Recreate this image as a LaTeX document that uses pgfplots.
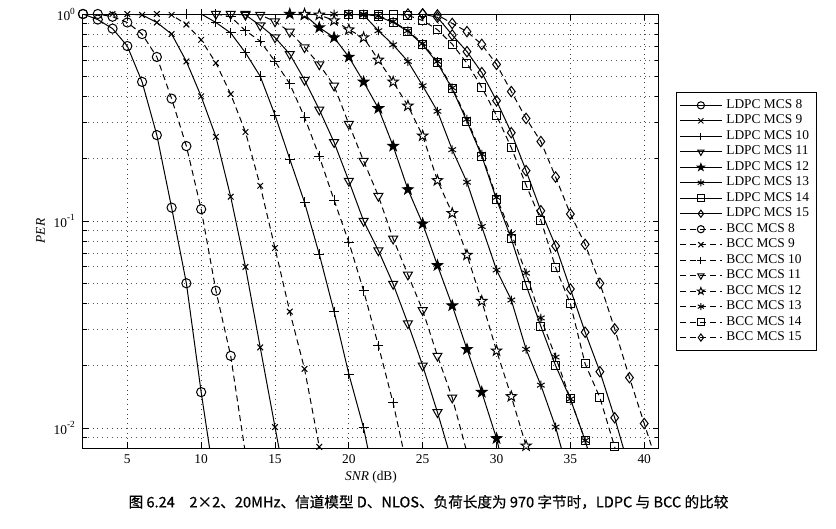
\documentclass[border=0pt]{standalone}
\usepackage{pgfplots}
\pgfplotsset{compat=1.18}
\usepackage{fontspec}
\setmainfont{Liberation Serif}
\newfontfamily\cjk[FakeBold=0.6]{Noto Sans CJK SC}
\usetikzlibrary{plotmarks}
\pgfdeclareplotmark{pstar}{%
  \pgfpathmoveto{\pgfpointpolar{90}{\pgfplotmarksize}}%
  \pgfpathlineto{\pgfpointpolar{126}{0.4\pgfplotmarksize}}%
  \pgfpathlineto{\pgfpointpolar{162}{\pgfplotmarksize}}%
  \pgfpathlineto{\pgfpointpolar{198}{0.4\pgfplotmarksize}}%
  \pgfpathlineto{\pgfpointpolar{234}{\pgfplotmarksize}}%
  \pgfpathlineto{\pgfpointpolar{270}{0.4\pgfplotmarksize}}%
  \pgfpathlineto{\pgfpointpolar{306}{\pgfplotmarksize}}%
  \pgfpathlineto{\pgfpointpolar{342}{0.4\pgfplotmarksize}}%
  \pgfpathlineto{\pgfpointpolar{18}{\pgfplotmarksize}}%
  \pgfpathlineto{\pgfpointpolar{54}{0.4\pgfplotmarksize}}%
  \pgfpathclose
  \pgfusepathqfillstroke}
\pgfplotsset{
  ldpc/.style={black, solid, line width=0.5pt},
  bcc/.style={black, dash pattern=on 3pt off 2pt, line width=0.5pt},
}
\begin{document}
\begin{tikzpicture}
\useasboundingbox (-41.5pt,-40.5pt) rectangle (376.5pt,224pt);
\begin{axis}[
  at={(0pt,0pt)}, anchor=south west,
  scale only axis, width=288pt, height=217pt,
  ymode=log, xmin=2, xmax=41, ymin=0.008, ymax=1,
  xtick={5,10,...,40},
  ytick={0.01,0.1,1},
  yticklabels={10\textsuperscript{-2},10\textsuperscript{-1},10\textsuperscript{0}},
  minor ytick={0.009,0.02,0.03,0.04,0.05,0.06,0.07,0.08,0.09,0.2,0.3,0.4,0.5,0.6,0.7,0.8,0.9},
  xmajorgrids, ymajorgrids, yminorgrids,
  major grid style={dotted, black!75},
  minor grid style={dotted, black!65},
  tick style={black, line width=0.4pt},
  major tick length=3pt, minor tick length=1.8pt,
  axis line style={line width=0.5pt},
  /pgf/number format/assume math mode=true,
  tick label style={font=\fontsize{6.7}{8}\selectfont},
  xlabel={\textit{SNR} (dB)}, ylabel={\textit{PER}},
  label style={font=\fontsize{6.7}{8}\selectfont},
  xlabel style={yshift=3.5pt},
  ylabel style={yshift=-2.5pt},
  legend style={at={(axis description cs:1.0295,0.8203)}, anchor=north west,
    font=\fontsize{6.7}{7.5}\selectfont, draw=black, inner sep=1.5pt, row sep=-2.2pt,
    cells={anchor=west}},
  legend image code/.code={\draw[mark repeat=2,mark phase=2,mark size=1.8pt,#1] plot coordinates {(0pt,0pt)(10.5pt,0pt)(21pt,0pt)};},
]
% LDPC
\addplot[ldpc, mark=o, mark size=2.3pt] coordinates {(2,1)(3,0.94)(4,0.85)(5,0.70)(6,0.47)(7,0.26)(8,0.116)(9,0.050)(10,0.0149)(11,0.005)};
\addlegendentry{LDPC MCS 8}
\addplot[ldpc, mark=x, mark size=2pt] coordinates {(4,1)(5,1)(6,0.99)(7,0.91)(8,0.80)(9,0.59)(10,0.40)(11,0.255)(12,0.131)(13,0.060)(14,0.0245)(15,0.0101)(16,0.0042)};
\addlegendentry{LDPC MCS 9}
\addplot[ldpc, mark=+, mark size=2.5pt] coordinates {(9,1)(10,1)(11,0.91)(12,0.81)(13,0.65)(14,0.50)(15,0.325)(16,0.199)(17,0.123)(18,0.069)(19,0.0365)(20,0.0182)(21,0.010)(22,0.0045)};
\addlegendentry{LDPC MCS 10}
\addplot[ldpc, mark=triangle, mark size=2.6pt, mark options={rotate=180}] coordinates {(11,1)(12,1)(13,0.99)(14,0.88)(15,0.77)(16,0.64)(17,0.48)(18,0.345)(19,0.24)(20,0.156)(21,0.10)(22,0.072)(23,0.0496)(24,0.032)(25,0.020)(26,0.0119)(27,0.0068)};
\addlegendentry{LDPC MCS 11}
\addplot[ldpc, mark=pstar, mark size=2.7pt, mark options={fill=black}] coordinates {(16,1)(17,0.99)(18,0.86)(19,0.77)(20,0.62)(21,0.47)(22,0.35)(23,0.23)(24,0.142)(25,0.097)(26,0.061)(27,0.039)(28,0.024)(29,0.0149)(30,0.0089)(31,0.0045)};
\addlegendentry{LDPC MCS 12}
\addplot[ldpc, mark=asterisk, mark size=2.2pt] coordinates {(19,1)(20,1)(21,0.99)(22,0.83)(23,0.71)(24,0.59)(25,0.45)(26,0.339)(27,0.221)(28,0.154)(29,0.094)(30,0.058)(31,0.0415)(32,0.024)(33,0.0161)(34,0.0101)(35,0.0055)};
\addlegendentry{LDPC MCS 13}
\addplot[ldpc, mark=square, mark size=2pt] coordinates {(20,1)(21,1)(22,0.975)(23,0.91)(24,0.825)(25,0.71)(26,0.58)(27,0.435)(28,0.303)(29,0.206)(30,0.127)(31,0.082)(32,0.049)(33,0.031)(34,0.020)(35,0.0138)(36,0.0087)(37,0.005)};
\addlegendentry{LDPC MCS 14}
\addplot[ldpc, mark=diamond, mark size=2.6pt] coordinates {(24,1)(25,1)(26,0.964)(27,0.792)(28,0.658)(29,0.521)(30,0.381)(31,0.267)(32,0.175)(33,0.112)(34,0.0757)(35,0.0469)(36,0.029)(37,0.0187)(38,0.0112)(39,0.0063)};
\addlegendentry{LDPC MCS 15}
% BCC
\addplot[bcc, mark=o, mark size=2.3pt, mark options={solid}] coordinates {(2,1)(3,1)(4,0.97)(5,0.91)(6,0.80)(7,0.62)(8,0.39)(9,0.23)(10,0.114)(11,0.046)(12,0.0223)(13,0.0075)};
\addlegendentry{BCC MCS 8}
\addplot[bcc, mark=x, mark size=2pt, mark options={solid}] coordinates {(7,1)(8,0.99)(9,0.89)(10,0.75)(11,0.58)(12,0.41)(13,0.269)(14,0.148)(15,0.074)(16,0.0365)(17,0.0193)(18,0.0081)(19,0.0035)};
\addlegendentry{BCC MCS 9}
\addplot[bcc, mark=+, mark size=2.5pt, mark options={solid}] coordinates {(11,1)(12,0.97)(13,0.83)(14,0.74)(15,0.59)(16,0.46)(17,0.317)(18,0.205)(19,0.126)(20,0.079)(21,0.046)(22,0.025)(23,0.0132)(24,0.0062)};
\addlegendentry{BCC MCS 10}
\addplot[bcc, mark=triangle, mark size=2.6pt, mark options={solid, rotate=180}] coordinates {(13,1)(14,0.99)(15,0.92)(16,0.82)(17,0.69)(18,0.57)(19,0.45)(20,0.294)(21,0.195)(22,0.132)(23,0.082)(24,0.055)(25,0.037)(26,0.0223)(27,0.014)(28,0.0076)};
\addlegendentry{BCC MCS 11}
\addplot[bcc, mark=pstar, mark size=2.7pt, mark options={solid, fill=white}] coordinates {(17,1)(18,0.99)(19,0.93)(20,0.84)(21,0.77)(22,0.60)(23,0.47)(24,0.36)(25,0.258)(26,0.157)(27,0.109)(28,0.0685)(29,0.041)(30,0.0236)(31,0.0142)(32,0.0082)(33,0.0045)};
\addlegendentry{BCC MCS 12}
\addplot[bcc, mark=asterisk, mark size=2.2pt, mark options={solid}] coordinates {(20,1)(21,1)(22,0.98)(23,0.92)(24,0.83)(25,0.72)(26,0.59)(27,0.44)(28,0.31)(29,0.21)(30,0.13)(31,0.087)(32,0.056)(33,0.034)(34,0.022)(35,0.0138)(36,0.0087)(37,0.005)};
\addlegendentry{BCC MCS 13}
\addplot[bcc, mark=square, mark size=2pt, mark options={solid}] coordinates {(22,1)(23,1)(24,0.985)(25,0.93)(26,0.84)(27,0.715)(28,0.578)(29,0.443)(30,0.323)(31,0.226)(32,0.149)(33,0.101)(34,0.0596)(35,0.0398)(36,0.0204)(37,0.014)(38,0.0081)(39,0.004)};
\addlegendentry{BCC MCS 14}
\addplot[bcc, mark=diamond, mark size=2.6pt, mark options={solid}] coordinates {(25,1)(26,0.99)(27,0.90)(28,0.822)(29,0.713)(30,0.571)(31,0.422)(32,0.313)(33,0.242)(34,0.163)(35,0.108)(36,0.0771)(37,0.05)(38,0.0301)(39,0.0175)(40,0.0105)(41,0.0063)};
\addlegendentry{BCC MCS 15}
\end{axis}
\node[font=\cjk\fontsize{7.3}{8.5}\selectfont, anchor=center] at (172.75pt,-27pt) {图 6.24\quad 2×2、20MHz、信道模型 D、NLOS、负荷长度为 970 字节时，LDPC 与 BCC 的比较};
\end{tikzpicture}
\end{document}
